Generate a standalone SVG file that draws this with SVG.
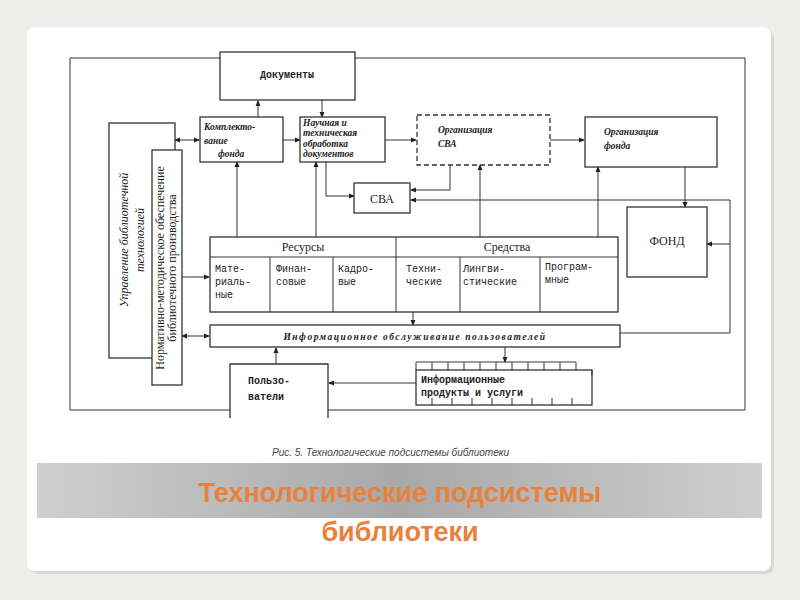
<svg xmlns="http://www.w3.org/2000/svg" width="800" height="600" viewBox="0 0 800 600">
<defs>
<marker id="a" markerWidth="6" markerHeight="6" refX="5" refY="3" orient="auto" markerUnits="userSpaceOnUse"><path d="M0,0.5 L6,3 L0,5.5 z" fill="#222"/></marker>
<marker id="s" markerWidth="6" markerHeight="6" refX="1" refY="3" orient="auto" markerUnits="userSpaceOnUse"><path d="M6,0.5 L0,3 L6,5.5 z" fill="#222"/></marker>
<linearGradient id="band" x1="0" y1="0" x2="1" y2="0"><stop offset="0" stop-color="#cfcfcf"/><stop offset="0.5" stop-color="#a8a8a8"/><stop offset="1" stop-color="#cfcfcf"/></linearGradient>
</defs>
<style>
.b{fill:#fff;stroke:#333;stroke-width:1.3}
.c{fill:none;stroke:#333;stroke-width:1}
.t{font-family:"Liberation Mono",monospace;font-size:10px;fill:#222}
.i{font-family:"Liberation Serif",serif;font-style:italic;font-weight:bold;font-size:9.5px;fill:#222}
.h{font-family:"Liberation Serif",serif;font-size:12px;fill:#222}
</style>
<rect width="800" height="600" fill="#eeeeea"/>
<rect x="30" y="30" width="744" height="544" rx="8" fill="#d8d8d4"/>
<rect x="27" y="27" width="744" height="544" rx="8" fill="#fff"/>
<rect x="37" y="38" width="725" height="480" fill="#fff"/>
<rect x="37" y="463" width="725" height="55" fill="url(#band)"/>
<text x="400" y="502" text-anchor="middle" font-family="Liberation Sans,sans-serif" font-weight="bold" font-size="27" fill="#e8823a">Технологические подсистемы</text>
<text x="400" y="541" text-anchor="middle" font-family="Liberation Sans,sans-serif" font-weight="bold" font-size="27" fill="#e8823a">библиотеки</text>
<text x="272" y="456" font-family="Liberation Sans,sans-serif" font-style="italic" font-size="10" fill="#444">Рис. 5. Технологические подсистемы библиотеки</text>

<g id="connectors">
<path class="c" d="M220,58 H70 V410 H230 M328,410 H745 V58 H355"/>
<path class="c" marker-end="url(#a)" d="M258,117 V101"/>
<path class="c" marker-end="url(#a)" d="M322,100 V117"/>
<path class="c" marker-end="url(#a)" d="M283,140 H300"/>
<path class="c" marker-end="url(#a)" d="M385,140 H416"/>
<path class="c" marker-end="url(#a)" d="M550,140 H584"/>
<path class="c" marker-end="url(#a)" d="M326,162 V196 H354"/>
<path class="c" marker-end="url(#a)" d="M450,165 V190 H411"/>
<path class="c" marker-end="url(#a)" d="M730,200 H411"/>
<path class="c" d="M730,200 V333 H620"/>
<path class="c" marker-end="url(#a)" d="M730,244 H707"/>
<path class="c" marker-end="url(#a)" d="M685,167 V207"/>
<path class="c" marker-end="url(#a)" d="M237,237 V162"/>
<path class="c" marker-end="url(#a)" d="M316,237 V162"/>
<path class="c" marker-end="url(#a)" d="M480,237 V165"/>
<path class="c" marker-end="url(#a)" d="M598,237 V167"/>
<path class="c" marker-start="url(#s)" marker-end="url(#a)" d="M175,140 H199"/>
<path class="c" marker-end="url(#a)" d="M182,277 H209"/>
<path class="c" marker-start="url(#s)" marker-end="url(#a)" d="M182,336 H209"/>
<path class="c" marker-end="url(#a)" d="M413,312 V325"/>
<path class="c" marker-end="url(#a)" d="M505,347 V362"/>
<path class="c" marker-end="url(#a)" d="M416,383 H329"/>
<path class="c" marker-end="url(#a)" d="M276,364 V348"/>
</g>

<g id="docs"><rect class="b" x="220" y="52" width="135" height="48"/><text class="t" x="287" y="78" text-anchor="middle" font-weight="bold">Документы</text></g>
<g id="komplekt"><rect class="b" x="200" y="117" width="83" height="45"/><text class="i" x="204" y="130">Комплекто-</text><text class="i" x="204" y="144">вание</text><text class="i" x="218" y="157">фонда</text></g>
<g id="obrabotka"><rect class="b" x="300" y="117" width="85" height="45"/><text class="i" x="303" y="126" font-size="8">Научная и</text><text class="i" x="303" y="136" font-size="8">техническая</text><text class="i" x="303" y="147" font-size="8">обработка</text><text class="i" x="303" y="157" font-size="8">документов</text></g>
<g id="orgsva"><rect class="b" x="417" y="115" width="133" height="50" stroke-dasharray="5,3"/><text class="i" x="438" y="133">Организация</text><text class="i" x="438" y="147">СВА</text></g>
<g id="orgfond"><rect class="b" x="585" y="117" width="132" height="50"/><text class="i" x="604" y="135">Организация</text><text class="i" x="604" y="149">фонда</text></g>
<g id="sva"><rect class="b" x="354" y="183" width="56" height="30"/><text class="h" x="382" y="203" text-anchor="middle" font-size="14">СВА</text></g>
<g id="fond"><rect class="b" x="627" y="207" width="80" height="70"/><text class="h" x="667" y="245" text-anchor="middle" font-size="13">ФОНД</text></g>
<g id="upravlenie"><rect class="b" x="109" y="123" width="66" height="235"/><text class="h" transform="translate(128,240) rotate(-90)" text-anchor="middle" font-style="italic" font-size="13">Управление библиотечной</text><text class="h" transform="translate(144,240) rotate(-90)" text-anchor="middle" font-style="italic" font-size="12">технологией</text></g>
<g id="normativ"><rect class="b" x="152" y="150" width="30" height="235"/><text class="h" transform="translate(164,268) rotate(-90)" text-anchor="middle" font-size="8.5">Нормативно-методическое обеспечение</text><text class="h" transform="translate(176,268) rotate(-90)" text-anchor="middle" font-size="8.5">библиотечного производства</text></g>
<g id="resources">
<rect class="b" x="210" y="237" width="408" height="75"/>
<path class="c" d="M210,257 H618 M396,237 V312 M270,257 V312 M333,257 V312 M460,257 V312 M540,257 V312"/>
<text class="h" x="303" y="251" text-anchor="middle">Ресурсы</text><text class="h" x="507" y="251" text-anchor="middle">Средства</text>
<text class="t" font-size="9"><tspan x="215" y="272">Мате-</tspan><tspan x="215" y="285">риаль-</tspan><tspan x="215" y="298">ные</tspan></text>
<text class="t" font-size="9"><tspan x="276" y="272">Финан-</tspan><tspan x="276" y="285">совые</tspan></text>
<text class="t" font-size="9"><tspan x="338" y="272">Кадро-</tspan><tspan x="338" y="285">вые</tspan></text>
<text class="t" font-size="9"><tspan x="406" y="272">Техни-</tspan><tspan x="406" y="285">ческие</tspan></text>
<text class="t" font-size="9"><tspan x="463" y="272">Лингви-</tspan><tspan x="463" y="285">стические</tspan></text>
<text class="t" font-size="9"><tspan x="545" y="270">Програм-</tspan><tspan x="545" y="283">мные</tspan></text>
</g>
<g id="obsluzh"><rect class="b" x="210" y="325" width="410" height="22"/><text class="i" x="415" y="340" text-anchor="middle" font-size="10" letter-spacing="1.5">Информационное обслуживание пользователей</text></g>
<g id="polzovateli"><path class="b" d="M230,418 V364 H328 V418"/><text class="t" x="248" y="384" font-weight="bold">Пользо-</text><text class="t" x="248" y="400" font-weight="bold">ватели</text></g>
<g id="produkty"><rect class="b" x="416" y="370" width="176" height="35"/>
<path class="c" d="M416,370 V362 H576 V370 M432,362 V370 M448,362 V370 M464,362 V370 M480,362 V370 M496,362 V370 M512,362 V370 M528,362 V370 M544,362 V370 M560,362 V370 M592,370 V375 M432,398 V405 M452,398 V405 M472,398 V405 M492,398 V405 M512,398 V405 M532,398 V405 M552,398 V405 M572,398 V405"/>
<text class="t" x="421" y="383" font-weight="bold">Информационные</text><text class="t" x="421" y="396" font-weight="bold">продукты и услуги</text></g>
</svg>
